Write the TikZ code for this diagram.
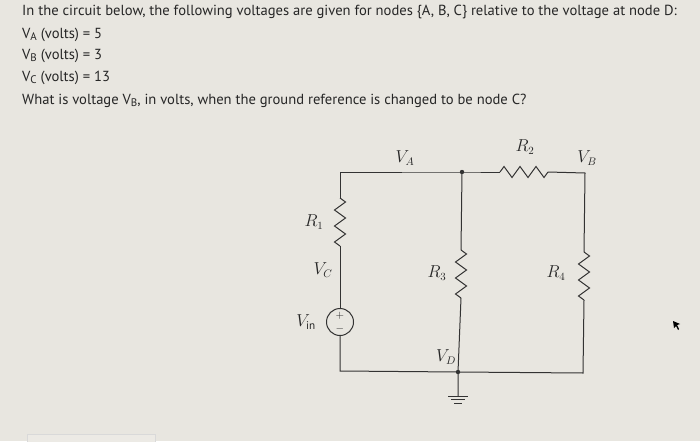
\documentclass[tikz,border=0pt]{standalone}
\usepackage{fontspec}
\setmainfont{PT Sans}
\usetikzlibrary{decorations.pathmorphing}
\begin{document}
\begin{tikzpicture}[x=1pt,y=-1pt,
  wire/.style={draw=black!80,line width=1pt},
  res/.style={wire,decorate,decoration={zigzag,segment length=16pt,amplitude=5.5pt}},
  qtext/.style={anchor=west,inner sep=0pt,font=\fontsize{14.6}{15}\selectfont,text=black!85},
  lab/.style={inner sep=0pt,font=\fontsize{16}{16}\selectfont,text=black!85}]
\useasboundingbox (0,0) rectangle (700,441);
\fill[color={rgb,255:red,232;green,230;blue,224}] (0,0) rectangle (700,441);
\draw[black!15,fill={rgb,255:red,236;green,234;blue,229}] (27,434) rectangle (155,445);
% text
\node[qtext] (t1) at (22,12) {In the circuit below, the following voltages are given for nodes \{A, B, C\} relative to the voltage at node D:};
\node[qtext] (t2) at (22,35) {V\raisebox{-2pt}{\fontsize{11}{11}\selectfont A} (volts) = 5};
\node[qtext] (t3) at (22,56) {V\raisebox{-2pt}{\fontsize{11}{11}\selectfont B} (volts) = 3};
\node[qtext] (t4) at (22,78) {V\raisebox{-2pt}{\fontsize{11}{11}\selectfont C} (volts) = 13};
\node[qtext] (t5) at (22,101) {What is voltage V\raisebox{-2pt}{\fontsize{11}{11}\selectfont B}, in volts, when the ground reference is changed to be node C?};
% circuit coordinates
\coordinate (tl) at (340,172);
\coordinate (ja) at (462,172);
\coordinate (tr) at (585,173);
\coordinate (bl) at (340,371);
\coordinate (jd) at (458,372);
\coordinate (br) at (583,373);
\coordinate (r1a) at (340,198);
\coordinate (r1b) at (340,246);
\coordinate (r2a) at (500,172);
\coordinate (r2b) at (548,172);
\coordinate (r3a) at (461,250);
\coordinate (r3b) at (461,298);
\coordinate (r4a) at (584,252);
\coordinate (r4b) at (584,300);
\coordinate (gnd) at (458,396);
\node[circle,draw=black!80,line width=1pt,minimum size=27pt,inner sep=0pt] (src) at (340,322) {};
\node[lab,font=\fontsize{11}{11}\selectfont] (plus) at (340,315.5) {$+$};
\node[lab,font=\fontsize{11}{11}\selectfont] (minus) at (340,329) {$-$};
% wires
\draw[wire] (r1a) -- (tl) -- (ja) -- (r2a);
\draw[res] (r2a) -- (r2b);
\draw[wire] (r2b) -- (tr) -- (r4a);
\draw[res] (r4a) -- (r4b);
\draw[wire] (r4b) -- (br) -- (jd) -- (bl) -- (src.south);
\draw[res] (r1a) -- (r1b);
\draw[wire] (r1b) -- (src.north);
\draw[wire] (ja) -- (r3a);
\draw[res] (r3a) -- (r3b);
\draw[wire] (r3b) -- (jd) -- (gnd);
\fill[black!80] (ja) circle (2.2pt) (jd) circle (2.2pt);
\draw[wire] (448,396) -- (468,396) (451,399.5) -- (465,399.5) (454,403) -- (462,403);
% labels
\node[lab] (la) at (405,158) {$V_A$};
\node[lab] (l2) at (525,147) {$R_2$};
\node[lab] (lb) at (587,158) {$V_B$};
\node[lab] (l1) at (314,222) {$R_1$};
\node[lab] (lc) at (323,270) {$V_C$};
\node[lab] (l3) at (437,273) {$R_3$};
\node[lab] (l4) at (556,273) {$R_4$};
\node[lab] (lin) at (306,322) {$V_{\mathrm{in}}$};
\node[lab] (ld) at (446,357) {$V_D$};
% cursor
\fill[black] (673,321) -- (680,324) -- (677,325) -- (679,329) -- (678,330) -- (676,326) -- (674,328) -- cycle;
\end{tikzpicture}
\end{document}
